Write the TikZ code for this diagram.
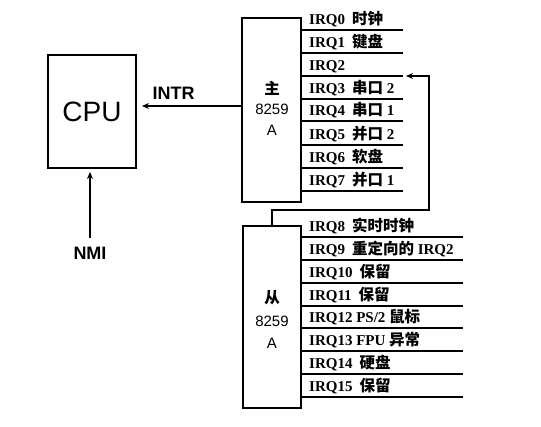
\documentclass[tikz,border=0pt]{standalone}
\usepackage{fontspec}
\setmainfont{Liberation Serif}
\newfontfamily\cjk{Noto Sans CJK SC}
\newfontfamily\sans{Liberation Sans}
\usetikzlibrary{arrows.meta}
\newcommand{\zh}[1]{{\cjk\bfseries\fontsize{15.5}{16}\selectfont #1}}
\begin{document}
\begin{tikzpicture}[x=1pt,y=-1pt,
  box/.style={draw,line width=1.2pt,inner sep=0pt},
  wire/.style={line width=1.1pt},
  arr/.style={line width=1.1pt,-{Stealth[length=7pt,width=6pt]}},
  irq/.style={anchor=base west,inner sep=0pt,font=\fontsize{15}{16}\selectfont\bfseries},
  chip/.style={align=center,inner sep=0pt,font=\fontsize{15}{20.5}\selectfont\sans}
]
\useasboundingbox (0,0) rectangle (541,427);
% CPU
\node[box,minimum width=88pt,minimum height=113pt] (cpu) at (92,111.5) {};
\node[font=\fontsize{28}{30}\selectfont\sans] (cputxt) at (cpu.center) {CPU};
% master and slave
\node[box,minimum width=59pt,minimum height=184pt] (master) at (271.5,110) {};
\node[chip] (mtxt) at (272,108) {\zh{主}\\8259\\A};
\node[box,minimum width=58pt,minimum height=182pt] (slave) at (272,317) {};
\node[chip,font=\fontsize{15}{22.5}\selectfont\sans] (stxt) at (272,319.5) {\zh{从}\\8259\\A};
% INTR
\coordinate (intrA) at (242,106);
\coordinate (intrB) at (142,106);
\draw[arr] (intrA) -- (intrB);
\node[font=\fontsize{18}{20}\selectfont\sans\bfseries] (intr) at (173.5,93) {INTR};
% NMI
\node[font=\fontsize{18}{20}\selectfont\sans\bfseries,inner sep=1pt] (nmi) at (90,253) {NMI};
\coordinate (nmiTop) at (90,238);
\draw[arr] (nmiTop) -- (90,172);
% master IRQ lines
\foreach \y/\t in {30/{IRQ0\hspace{7pt}\zh{时钟}},
                   53/{IRQ1\hspace{7pt}\zh{键盘}},
                   76/{IRQ2},
                   99/{IRQ3\hspace{7pt}\zh{串口} 2},
                   121/{IRQ4\hspace{7pt}\zh{串口} 1},
                   145/{IRQ5\hspace{7pt}\zh{并口} 2},
                   168/{IRQ6\hspace{7pt}\zh{软盘}},
                   191/{IRQ7\hspace{7pt}\zh{并口} 1}}{
  \draw[wire] (master.east |- 0,\y) -- (403,\y);
  \node[irq] at (309,\y-5) {\t};
}
% slave IRQ lines
\foreach \y/\t in {237/{IRQ8\hspace{7pt}\zh{实时时钟}},
                   260/{IRQ9\hspace{7pt}\zh{重定向的} IRQ2},
                   283/{IRQ10\hspace{7pt}\zh{保留}},
                   306/{IRQ11\hspace{7pt}\zh{保留}},
                   328/{IRQ12 PS/2 \zh{鼠标}},
                   351/{IRQ13 FPU \zh{异常}},
                   374/{IRQ14\hspace{7pt}\zh{硬盘}},
                   397/{IRQ15\hspace{7pt}\zh{保留}}}{
  \draw[wire] (slave.east |- 0,\y) -- (463,\y);
  \node[irq] at (309,\y-5) {\t};
}
% cascade: slave to IRQ2
\coordinate (irq2end) at (406,76);
\draw[arr] (slave.north) -- (272,210) -- (429,210) -- (429,76) -- (irq2end);
\end{tikzpicture}
\end{document}
